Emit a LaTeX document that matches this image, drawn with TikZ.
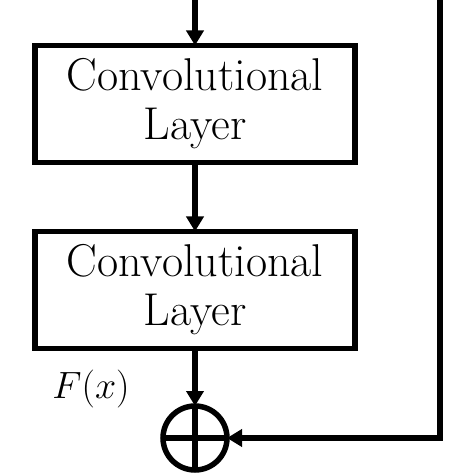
\documentclass[tikz,border=0pt]{standalone}
\usepackage{fix-cm}
\usepackage{amsmath}
\usepackage{tikz}
\usetikzlibrary{arrows.meta,positioning}

\begin{document}
\begin{tikzpicture}[
    x=1bp, y=1bp, line width=5.5bp,
    layer/.style={draw, rectangle, outer sep=0pt, minimum width=320bp, minimum height=117bp,
      align=center, font=\fontsize{46bp}{49bp}\selectfont},
    adder/.style={draw, circle, outer sep=0pt, inner sep=0pt, minimum size=64bp},
    flow/.style={-{Triangle[length=15bp,width=17bp]}}
  ]
    \useasboundingbox (0,0) rectangle (474,474);
    \node[layer](conv1) at (195,370){Convolutional\\Layer};
    \node[layer,below=69bp of conv1](conv2){Convolutional\\Layer};
    \node[adder,below=57.5bp of conv2](sum){};
    \draw(sum.north)--(sum.south) (sum.west)--(sum.east);
    \coordinate(in) at (195,474);
    \coordinate(skip) at (440,474);
    \draw[flow](in)--(conv1);
    \draw[flow](conv1)--(conv2);
    \draw[flow](conv2)--(sum);
    \draw[flow](skip)|-(sum.east);
    \node[font=\fontsize{38bp}{44bp}\selectfont](fx) at (91,85){$F(x)$};
  \end{tikzpicture}
\end{document}
